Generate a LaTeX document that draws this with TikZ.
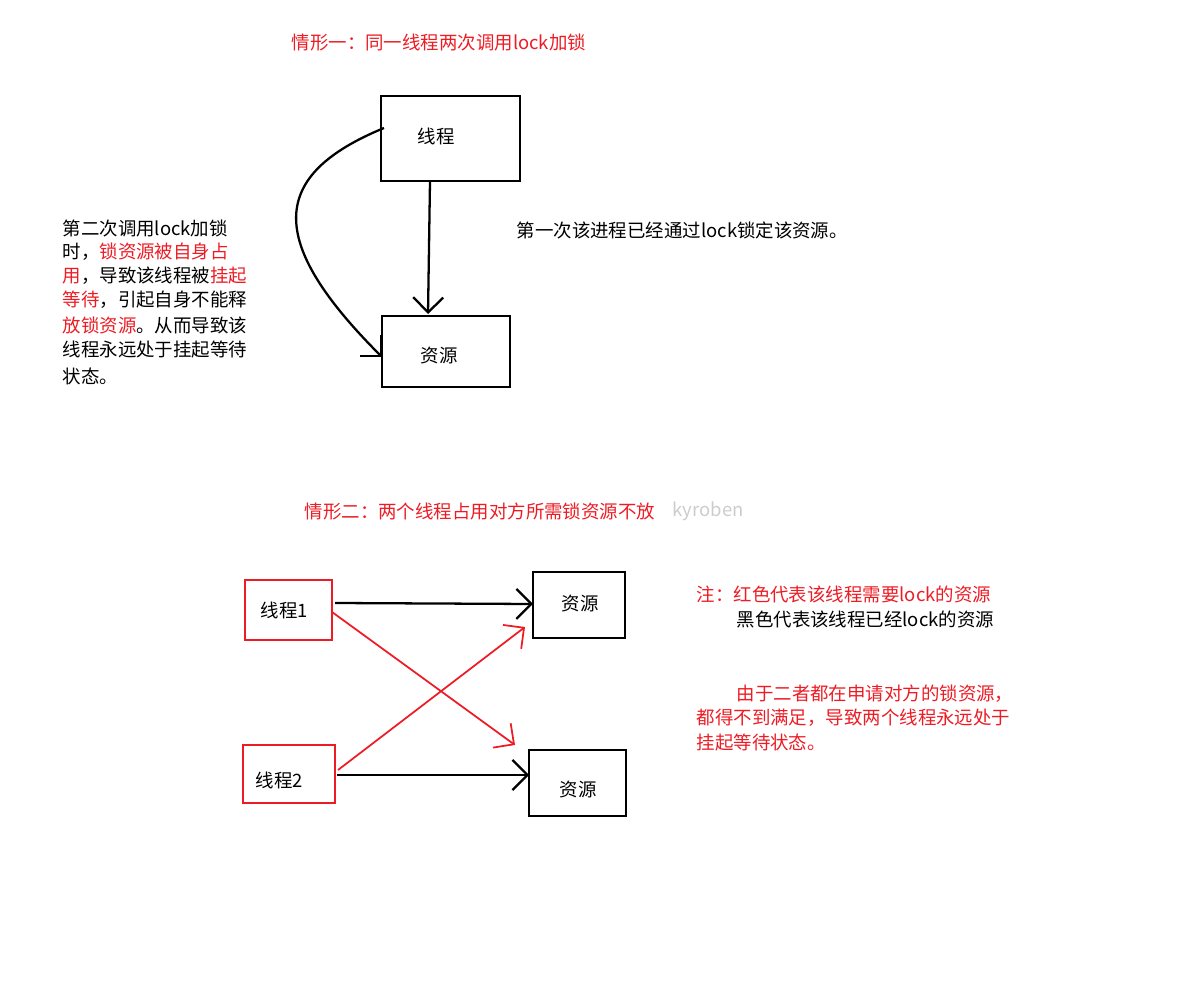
\documentclass[tikz,border=0pt]{standalone}
\usepackage{fontspec}
\setmainfont{Noto Sans CJK SC}
\usetikzlibrary{arrows.meta}
\definecolor{hired}{RGB}{237,28,36}
\begin{document}
\begin{tikzpicture}[x=0.02cm,y=-0.02cm,thick,
  box/.style={draw,line width=1.3pt},
  rbox/.style={draw=hired,line width=1.3pt},
  txt/.style={anchor=west,inner sep=0,font=\fontsize{10.5}{13}\selectfont},
  >={Straight Barb[length=3mm,width=6mm]}]
	\useasboundingbox (0,0) rectangle (1200,1000);
	%CASE ONE
	\node[txt,text=hired] (title1) at (291,42) {情形一：同一线程两次调用lock加锁};
	\draw[box] (381,96) rectangle (520,181);
	\node[txt] (thread) at (417,136) {线程};
	\draw[box] (382,316) rectangle (510,387);
	\node[txt] (res) at (420,356) {资源};
	\coordinate (tb) at (430,181);
	\coordinate (rt) at (428,314);
	\draw[->,line width=1.3pt] (tb)--(rt);
	\coordinate (tl) at (384,128);
	\coordinate (rl) at (382,357);
	\draw[->,line width=1.3pt] (tl) .. controls (270,175) and (265,240) .. (rl);
	%
	\node[txt] (l1) at (62,228) {第二次调用lock加锁};
	\node[txt] (l2) at (62,252) {时，\textcolor{hired}{锁资源被自身占}};
	\node[txt] (l3) at (62,276) {\textcolor{hired}{用}，导致该线程被\textcolor{hired}{挂起}};
	\node[txt] (l4) at (62,300) {\textcolor{hired}{等待}，引起自身不能释};
	\node[txt] (l5) at (62,325) {\textcolor{hired}{放锁资源}。从而导致该};
	\node[txt] (l6) at (62,350) {线程永远处于挂起等待};
	\node[txt] (l7) at (62,376) {状态。};
	\node[txt] (first) at (516,230) {第一次该进程已经通过lock锁定该资源。};
	
	%CASE TWO
	\node[txt,text=hired] (title2) at (304,511) {情形二：两个线程占用对方所需锁资源不放};
	\node[txt,text=black!20,font=\rmfamily\fontsize{10.5}{13}\selectfont] (wm) at (672,511) {kyroben};
	\draw[rbox] (245,580) rectangle (332,640);
	\node[txt] (t1) at (260,610) {线程1};
	\draw[box] (533,572) rectangle (625,638);
	\node[txt] (r1) at (561,604) {资源};
	\draw[rbox] (243,745) rectangle (335,803);
	\node[txt] (t2) at (255,780) {线程2};
	\draw[box] (529,750) rectangle (626,816);
	\node[txt] (r2) at (559,790) {资源};
	%
	\coordinate (a1) at (335,603); \coordinate (b1) at (533,604);
	\coordinate (a2) at (337,775); \coordinate (b2) at (529,775);
	\coordinate (c1) at (332,612); \coordinate (d1) at (515,745);
	\coordinate (c2) at (338,770); \coordinate (d2) at (525,627);
	\draw[->,line width=1.3pt] (a1)--(b1);
	\draw[->,line width=1.3pt] (a2)--(b2);
	\draw[->,hired,line width=1pt] (c1)--(d1);
	\draw[->,hired,line width=1pt] (c2)--(d2);
	
	%NOTES
	\node[txt,text=hired] (n1) at (696,594) {注：红色代表该线程需要lock的资源};
	\node[txt] (n2) at (736,619) {黑色代表该线程已经lock的资源};
	\node[txt,text=hired] (n3) at (736,694) {由于二者都在申请对方的锁资源，};
	\node[txt,text=hired] (n4) at (696,718) {都得不到满足，导致两个线程永远处于};
	\node[txt,text=hired] (n5) at (696,743) {挂起等待状态。};
\end{tikzpicture}
\end{document}
